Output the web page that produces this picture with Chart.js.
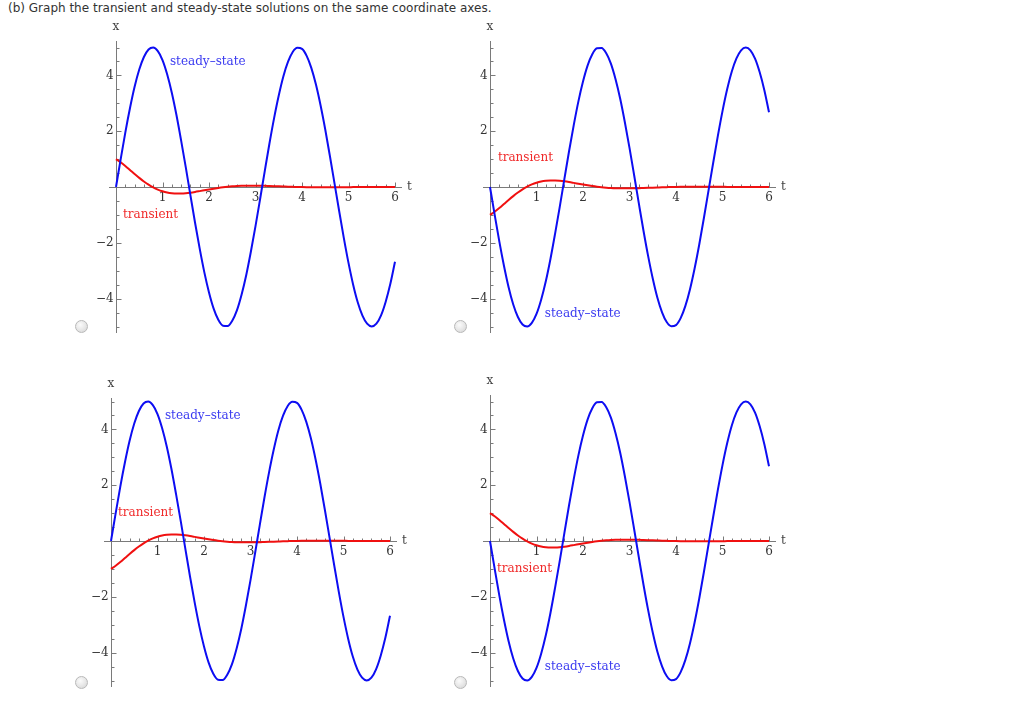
<!DOCTYPE html>
<html>
<head>
<meta charset="utf-8">
<script src="https://cdn.jsdelivr.net/npm/chart.js@4.4.1/dist/chart.umd.min.js"></script>
<style>
  html, body { margin: 0; padding: 0; background: #fff; }
  body { width: 1024px; height: 715px; position: relative; overflow: hidden; font-family: "DejaVu Sans", Verdana, sans-serif; }
  #title { position: absolute; left: 8px; top: 1px; font-size: 12px; color: #333; white-space: nowrap; }
  .panel { position: absolute; }
  .radio { position: absolute; width: 11px; height: 11px; border-radius: 50%; border: 1px solid #b8b8b8;
           background: radial-gradient(circle at 40% 35%, #fbfbfb 0%, #e6e6e6 55%, #d2d2d2 100%); }
</style>
</head>
<body>
<div id="title">(b) Graph the transient and steady-state solutions on the same coordinate axes.</div>
<canvas id="c1" class="panel" width="380" height="340"></canvas>
<canvas id="c2" class="panel" width="380" height="340"></canvas>
<canvas id="c3" class="panel" width="380" height="340"></canvas>
<canvas id="c4" class="panel" width="380" height="340"></canvas>
<div class="radio" style="left:75px;top:320px"></div>
<div class="radio" style="left:454px;top:320px"></div>
<div class="radio" style="left:75px;top:676px"></div>
<div class="radio" style="left:454px;top:676px"></div>
<script>
// ---------- data ----------
const tValues = [0,0.1,0.2,0.3,0.4,0.5,0.6,0.7,0.8,0.9,1.0,1.1,1.2,1.3,1.4,1.5,1.6,1.7,1.8,1.9,2.0,2.1,2.2,2.3,2.4,2.5,2.6,2.7,2.8,2.9,3.0,3.1,3.2,3.3,3.4,3.5,3.6,3.7,3.8,3.9,4.0,4.1,4.2,4.3,4.4,4.5,4.6,4.7,4.8,4.9,5.0,5.1,5.2,5.3,5.4,5.5,5.6,5.7,5.8,5.9,6.0];

const steadyPos = [0,0.99,1.95,2.82,3.59,4.21,4.66,4.93,5.00,4.87,4.55,4.04,3.38,2.58,1.67,0.71,-0.29,-1.28,-2.21,-3.06,-3.78,-4.36,-4.76,-4.97,-4.98,-4.79,-4.42,-3.86,-3.16,-2.32,-1.40,-0.42,0.58,1.56,2.47,3.28,3.97,4.49,4.84,4.99,4.95,4.70,4.27,3.67,2.92,2.06,1.11,0.12,-0.87,-1.83,-2.72,-3.50,-4.14,-4.61,-4.90,-5.00,-4.90,-4.60,-4.11,-3.47,-2.68];

const steadyNeg = [0,-0.99,-1.95,-2.82,-3.59,-4.21,-4.66,-4.93,-5.00,-4.87,-4.55,-4.04,-3.38,-2.58,-1.67,-0.71,0.29,1.28,2.21,3.06,3.78,4.36,4.76,4.97,4.98,4.79,4.42,3.86,3.16,2.32,1.40,0.42,-0.58,-1.56,-2.47,-3.28,-3.97,-4.49,-4.84,-4.99,-4.95,-4.70,-4.27,-3.67,-2.92,-2.06,-1.11,-0.12,0.87,1.83,2.72,3.50,4.14,4.61,4.90,5.00,4.90,4.60,4.11,3.47,2.68];

const transientPos = [1.000,0.887,0.754,0.611,0.467,0.328,0.199,0.084,-0.013,-0.092,-0.153,-0.196,-0.222,-0.234,-0.232,-0.221,-0.202,-0.177,-0.148,-0.118,-0.088,-0.060,-0.034,-0.011,0.008,0.023,0.035,0.043,0.047,0.049,0.048,0.045,0.041,0.035,0.029,0.023,0.017,0.011,0.006,0.001,-0.003,-0.006,-0.008,-0.009,-0.010,-0.010,-0.010,-0.009,-0.008,-0.007,-0.006,-0.004,-0.003,-0.002,-0.001,0.000,0.001,0.001,0.002,0.002,0.002];

const transientNeg = [-1.000,-0.887,-0.754,-0.611,-0.467,-0.328,-0.199,-0.084,0.013,0.092,0.153,0.196,0.222,0.234,0.232,0.221,0.202,0.177,0.148,0.118,0.088,0.060,0.034,0.011,-0.008,-0.023,-0.035,-0.043,-0.047,-0.049,-0.048,-0.045,-0.041,-0.035,-0.029,-0.023,-0.017,-0.011,-0.006,-0.001,0.003,0.006,0.008,0.009,0.010,0.010,0.010,0.009,0.008,0.007,0.006,0.004,0.003,0.002,0.001,0.000,-0.001,-0.001,-0.002,-0.002,-0.002];

const xTickValues = [1,2,3,4,5,6];
const yTickValues = [-4,-2,2,4];
const xMinorStep = 0.2;
const yMinorStep = 0.5;
const xAxisTitle = 'x';
const tAxisTitle = 't';
const steadyLabel = 'steady\u2013state';
const transientLabel = 'transient';

// ---------- style ----------
const BLUE = '#0d0df2';
const RED = '#f01010';
const BLUE_TEXT = '#3a3af0';
const RED_TEXT = '#f02a2a';
const AXIS = '#7a7a7a';
const TICKTEXT = '#333';
const SERIF = '"DejaVu Serif", "Liberation Serif", serif';
const PX = 46.5;   // pixels per t unit
const PY = 27.9;   // pixels per x unit
const XMIN = -0.15, XMAX = 6.15, YMIN = -5.23;
const CW = 380, CH = 340;

const decor = {
  id: 'decor',
  beforeDatasetsDraw(chart, args, opts) {
    const ctx = chart.ctx, xs = chart.scales.x, ys = chart.scales.y;
    const x0 = Math.round(xs.getPixelForValue(0)) + 0.5;
    const y0 = Math.round(ys.getPixelForValue(0)) + 0.5;
    ctx.save();
    ctx.strokeStyle = AXIS;
    ctx.lineWidth = 1;
    ctx.beginPath();
    for (let i = 1; i * xMinorStep <= 6 + 1e-9; i++) {
      const v = i * xMinorStep;
      const major = Math.abs(v - Math.round(v)) < 1e-6;
      const px = Math.round(xs.getPixelForValue(v)) + 0.5;
      ctx.moveTo(px, y0);
      ctx.lineTo(px, y0 - (major ? 5 : 3));
    }
    for (let i = Math.ceil(ys.min / yMinorStep); i * yMinorStep <= ys.max + 1e-9; i++) {
      if (i === 0) continue;
      const v = i * yMinorStep;
      const major = Math.abs(v / 2 - Math.round(v / 2)) < 1e-6;
      const py = Math.round(ys.getPixelForValue(v)) + 0.5;
      ctx.moveTo(x0, py);
      ctx.lineTo(x0 + (major ? 5 : 3), py);
    }
    ctx.stroke();
    ctx.restore();
  },
  afterDatasetsDraw(chart, args, opts) {
    const ctx = chart.ctx, xs = chart.scales.x, ys = chart.scales.y, area = chart.chartArea;
    ctx.save();
    ctx.font = '12px ' + SERIF;
    ctx.fillStyle = '#444';
    ctx.textAlign = 'center';
    ctx.textBaseline = 'middle';
    ctx.fillText(xAxisTitle, xs.getPixelForValue(0), area.top - 15);
    ctx.textAlign = 'left';
    ctx.fillText(tAxisTitle, area.right + 5, ys.getPixelForValue(0));
    for (const l of (opts.labels || [])) {
      ctx.fillStyle = l.color;
      ctx.fillText(l.text, xs.getPixelForValue(l.t), ys.getPixelForValue(l.x));
    }
    ctx.restore();
  }
};

const fmt = v => (v < 0 ? '\u2212' + Math.abs(v) : String(v));

const panels = [
  { id: 'c1', ox: 116, oy: 186.5, ymax: 5.2, steady: steadyPos, transient: transientPos,
    labels: [ { text: steadyLabel, t: 1.16, x: 4.5, color: BLUE_TEXT }, { text: transientLabel, t: 0.15, x: -1.0, color: RED_TEXT } ] },
  { id: 'c2', ox: 490, oy: 186.5, ymax: 5.2, steady: steadyNeg, transient: transientNeg,
    labels: [ { text: transientLabel, t: 0.17, x: 1.03, color: RED_TEXT }, { text: steadyLabel, t: 1.18, x: -4.55, color: BLUE_TEXT } ] },
  { id: 'c3', ox: 111, oy: 541, ymax: 5.1, steady: steadyPos, transient: transientNeg,
    labels: [ { text: steadyLabel, t: 1.16, x: 4.5, color: BLUE_TEXT }, { text: transientLabel, t: 0.15, x: 1.0, color: RED_TEXT } ] },
  { id: 'c4', ox: 490, oy: 541, ymax: 5.2, steady: steadyNeg, transient: transientPos,
    labels: [ { text: transientLabel, t: 0.15, x: -1.0, color: RED_TEXT }, { text: steadyLabel, t: 1.18, x: -4.5, color: BLUE_TEXT } ] }
];

for (const p of panels) {
  const cv = document.getElementById(p.id);
  const left = p.ox - 50, top = p.oy - 170;
  cv.style.left = left + 'px';
  cv.style.top = top + 'px';
  const padL = 50 + XMIN * PX;
  const padT = 170 - p.ymax * PY;
  const padR = CW - padL - (XMAX - XMIN) * PX;
  const padB = CH - padT - (p.ymax - YMIN) * PY;
  new Chart(cv, {
    type: 'line',
    data: {
      datasets: [
        { label: 'steady-state', data: tValues.map((t, i) => ({ x: t, y: p.steady[i] })),
          borderColor: BLUE, borderWidth: 2, pointRadius: 0, cubicInterpolationMode: 'monotone', fill: false, clip: 6 },
        { label: 'transient', data: tValues.map((t, i) => ({ x: t, y: p.transient[i] })),
          borderColor: RED, borderWidth: 2, pointRadius: 0, cubicInterpolationMode: 'monotone', fill: false, clip: 6 }
      ]
    },
    options: {
      responsive: false,
      animation: false,
      events: [],
      layout: { padding: { left: padL, top: padT, right: padR, bottom: padB } },
      plugins: { legend: { display: false }, tooltip: { enabled: false }, decor: { labels: p.labels } },
      scales: {
        x: {
          type: 'linear', min: XMIN, max: XMAX, position: { y: 0 },
          grid: { display: false, drawTicks: false },
          border: { display: true, color: AXIS, width: 1 },
          afterBuildTicks: s => { s.ticks = xTickValues.map(v => ({ value: v })); },
          ticks: { autoSkip: false, maxRotation: 0, padding: 4, color: TICKTEXT,
                   font: { family: SERIF, size: 12 }, callback: v => fmt(v) }
        },
        y: {
          type: 'linear', min: YMIN, max: p.ymax, position: { x: 0 },
          grid: { display: false, drawTicks: false },
          border: { display: true, color: AXIS, width: 1 },
          afterBuildTicks: s => { s.ticks = yTickValues.map(v => ({ value: v })); },
          ticks: { autoSkip: false, padding: 4, color: TICKTEXT,
                   font: { family: SERIF, size: 12 }, callback: v => fmt(v) + '\u2009' }
        }
      }
    },
    plugins: [decor]
  });
}
</script>
</body>
</html>
